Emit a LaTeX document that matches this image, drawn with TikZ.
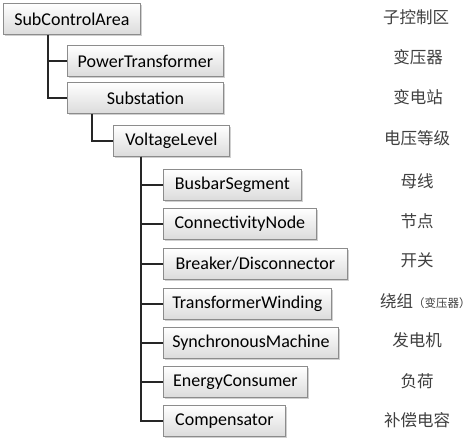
\documentclass[tikz,border=0pt]{standalone}
\usepackage{fontspec}
\setmainfont{Carlito}
\newfontfamily\cjk{Noto Sans CJK SC}
\usetikzlibrary{shadows}
\definecolor{boxline}{gray}{0.55}
\definecolor{cjkcol}{gray}{0.25}
\tikzset{
  box/.style={draw=boxline, line width=0.8pt, top color=white, bottom color=black!14,
    minimum height=31pt, inner sep=0pt, anchor=north west, font=\fontsize{18}{20}\selectfont,
    drop shadow={shadow xshift=1.5pt, shadow yshift=-1.5pt, fill=black!30, opacity=0.6}},
  conn/.style={line width=1.4pt, draw=black!85},
  lab/.style={font=\cjk\fontsize{16.5}{18}\selectfont, text=cjkcol, inner sep=0pt}
}
\begin{document}
\begin{tikzpicture}[x=1pt,y=-1pt]
\useasboundingbox[fill=white] (0,0) rectangle (474,441);
\node[box, minimum width=137pt] (sca) at (3,3) {SubControlArea};
\node[box, minimum width=156pt] (pt) at (67,45) {PowerTransformer};
\node[box, minimum width=156pt] (sub) at (67,82) {Substation};
\node[box, minimum width=116pt] (vl) at (113,125) {VoltageLevel};
\node[box, minimum width=138pt] (bs) at (163,169) {BusbarSegment};
\node[box, minimum width=153pt] (cn) at (163,208) {ConnectivityNode};
\node[box, minimum width=184pt] (bd) at (163,248) {Breaker/Disconnector};
\node[box, minimum width=168pt] (tw) at (163,288) {TransformerWinding};
\node[box, minimum width=175pt] (sm) at (163,327) {SynchronousMachine};
\node[box, minimum width=144pt] (ec) at (163,366) {EnergyConsumer};
\node[box, minimum width=122pt] (cp) at (163,405) {Compensator};
\coordinate (t1) at ([xshift=45pt]sca.south west);
\coordinate (t2) at ([xshift=25pt]sub.south west);
\coordinate (t3) at ([xshift=28pt]vl.south west);
\draw[conn] (t1) |- (pt.west);
\draw[conn] (t1) |- (sub.west);
\draw[conn] (t2) |- (vl.west);
\foreach \n in {bs,cn,bd,tw,sm,ec,cp} \draw[conn] (t3) |- (\n.west);
\node[lab] (l1) at (416,17) {子控制区};
\node[lab] (l2) at (418,57) {变压器};
\node[lab] (l3) at (418,97) {变电站};
\node[lab] (l4) at (417,138) {电压等级};
\node[lab] (l5) at (417,181) {母线};
\node[lab] (l6) at (417,221) {节点};
\node[lab] (l7) at (417,260) {开关};
\node[lab, anchor=west] (l8) at (380,301) {绕组{\fontsize{11.5}{13}\selectfont （变压器）}};
\node[lab] (l9) at (417,340) {发电机};
\node[lab] (l10) at (417,381) {负荷};
\node[lab] (l11) at (417,420) {补偿电容};
\end{tikzpicture}
\end{document}
